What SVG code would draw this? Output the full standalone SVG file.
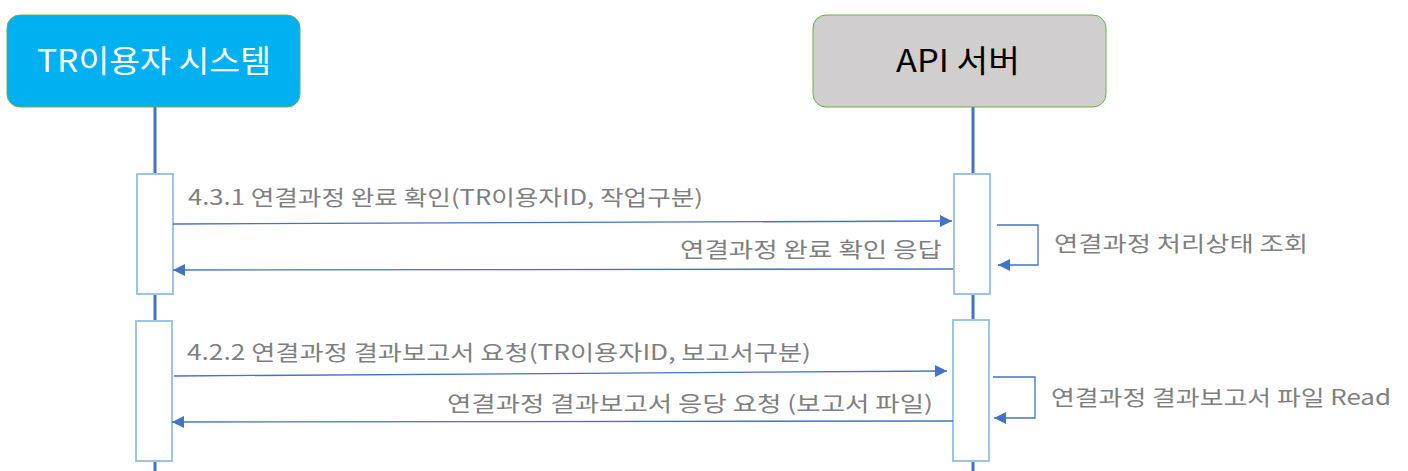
<svg xmlns="http://www.w3.org/2000/svg" width="1408" height="471" viewBox="0 0 1408 471">
<style>
.t{font-family:"Noto Sans CJK KR","Noto Sans",sans-serif;font-size:21px;fill:#7f7f7f}
.h{font-family:"Noto Sans CJK KR","Noto Sans",sans-serif;font-size:31px}
.life{stroke:#4472c4;stroke-width:3}
.act{fill:#fff;stroke:#9dc3e6;stroke-width:2}
.msg{stroke:#4472c4;stroke-width:1.3;fill:none;marker-end:url(#a)}
</style>
<defs><marker id="a" viewBox="0 0 10 10" refX="10" refY="5" markerWidth="12" markerHeight="12" markerUnits="userSpaceOnUse" orient="auto"><path d="M0,0L10,5L0,10z" fill="#4472c4"/></marker></defs>
<g id="lifelines"><line class="life" x1="155" y1="107" x2="155" y2="471"/><line class="life" x1="973" y1="107" x2="973" y2="471"/></g>
<g id="tr"><rect x="7" y="15" width="293" height="92" rx="13" fill="#00b0f0" stroke="#70ad47"/><text class="h" x="37" y="72" textLength="234" lengthAdjust="spacingAndGlyphs" fill="#fff">TR이용자 시스템</text></g>
<g id="api"><rect x="813" y="15" width="293" height="92" rx="13" fill="#d0cece" stroke="#70ad47"/><text class="h" x="896" y="72" textLength="124" lengthAdjust="spacingAndGlyphs" fill="#000">API 서버</text></g>
<g id="activations">
<rect class="act" x="137" y="174" width="36" height="120"/>
<rect class="act" x="136" y="321" width="36" height="140"/>
<rect class="act" x="954" y="174" width="36" height="120"/>
<rect class="act" x="953" y="320" width="36" height="141"/>
</g>
<g id="connectors">
<path class="msg" d="M173,224L952,221"/>
<path class="msg" d="M953,269L173,270"/>
<path class="msg" d="M997,225H1038V265H998"/>
<path class="msg" d="M174,376L947,371"/>
<path class="msg" d="M953,421L172,422"/>
<path class="msg" d="M993,377H1035V418H994"/>
</g>
<g id="labels">
<text class="t" x="188" y="205" textLength="515" lengthAdjust="spacingAndGlyphs">4.3.1 연결과정 완료 확인(TR이용자ID, 작업구분)</text>
<text class="t" x="680" y="257" textLength="262" lengthAdjust="spacingAndGlyphs">연결과정 완료 확인 응답</text>
<text class="t" x="1054" y="251" textLength="254" lengthAdjust="spacingAndGlyphs">연결과정 처리상태 조회</text>
<text class="t" x="187" y="360" textLength="624" lengthAdjust="spacingAndGlyphs">4.2.2 연결과정 결과보고서 요청(TR이용자ID, 보고서구분)</text>
<text class="t" x="447" y="411" textLength="486" lengthAdjust="spacingAndGlyphs">연결과정 결과보고서 응당 요청 (보고서 파일)</text>
<text class="t" x="1051" y="405" textLength="340" lengthAdjust="spacingAndGlyphs">연결과정 결과보고서 파일 Read</text>
</g>
</svg>
